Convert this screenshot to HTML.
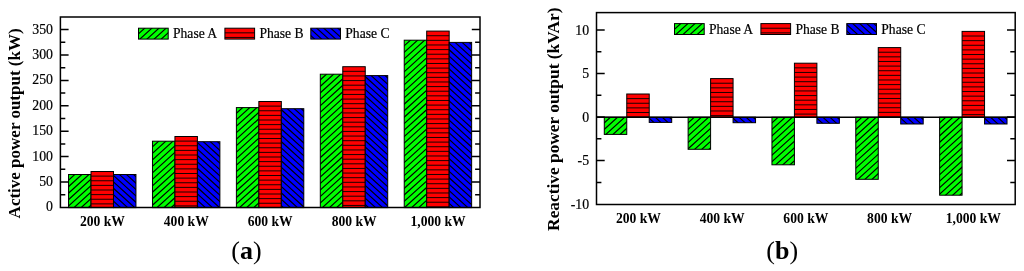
<!DOCTYPE html>
<html><head><meta charset="utf-8"><title>Active and reactive power output</title>
<style>html,body{margin:0;padding:0;background:#fff;} svg{display:block;} text{font-family:'Liberation Serif', 'Times New Roman', serif;fill:#000;stroke:#000;stroke-width:0.2px;} text[font-weight=bold],tspan[font-weight=bold]{stroke:none;}</style>
</head><body>
<svg width="1024" height="271" viewBox="0 0 1024 271">
<defs><clipPath id="c1"><rect x="68.55" y="174.50" width="22.47" height="33.10"/></clipPath><clipPath id="c2"><rect x="91.02" y="171.50" width="22.47" height="36.10"/></clipPath><clipPath id="c3"><rect x="113.48" y="174.50" width="22.47" height="33.10"/></clipPath><clipPath id="c4"><rect x="152.47" y="141.20" width="22.47" height="66.40"/></clipPath><clipPath id="c5"><rect x="174.94" y="136.50" width="22.47" height="71.10"/></clipPath><clipPath id="c6"><rect x="197.41" y="141.70" width="22.47" height="65.90"/></clipPath><clipPath id="c7"><rect x="236.39" y="107.60" width="22.47" height="100.00"/></clipPath><clipPath id="c8"><rect x="258.86" y="101.50" width="22.47" height="106.10"/></clipPath><clipPath id="c9"><rect x="281.33" y="108.70" width="22.47" height="98.90"/></clipPath><clipPath id="c10"><rect x="320.31" y="74.20" width="22.47" height="133.40"/></clipPath><clipPath id="c11"><rect x="342.77" y="66.70" width="22.47" height="140.90"/></clipPath><clipPath id="c12"><rect x="365.25" y="75.60" width="22.47" height="132.00"/></clipPath><clipPath id="c13"><rect x="404.23" y="40.20" width="22.47" height="167.40"/></clipPath><clipPath id="c14"><rect x="426.70" y="31.10" width="22.47" height="176.50"/></clipPath><clipPath id="c15"><rect x="449.17" y="42.40" width="22.47" height="165.20"/></clipPath><clipPath id="c16"><rect x="138.50" y="28.20" width="29.70" height="10.90"/></clipPath><clipPath id="c17"><rect x="224.90" y="28.20" width="29.70" height="10.90"/></clipPath><clipPath id="c18"><rect x="310.80" y="28.20" width="29.70" height="10.90"/></clipPath><clipPath id="c19"><rect x="604.29" y="117.20" width="22.47" height="17.20"/></clipPath><clipPath id="c20"><rect x="626.76" y="94.00" width="22.47" height="23.20"/></clipPath><clipPath id="c21"><rect x="649.23" y="117.20" width="22.47" height="5.20"/></clipPath><clipPath id="c22"><rect x="688.12" y="117.20" width="22.47" height="32.10"/></clipPath><clipPath id="c23"><rect x="710.60" y="78.60" width="22.47" height="38.60"/></clipPath><clipPath id="c24"><rect x="733.07" y="117.20" width="22.47" height="5.50"/></clipPath><clipPath id="c25"><rect x="771.95" y="117.20" width="22.47" height="47.60"/></clipPath><clipPath id="c26"><rect x="794.42" y="63.20" width="22.47" height="54.00"/></clipPath><clipPath id="c27"><rect x="816.89" y="117.20" width="22.47" height="6.10"/></clipPath><clipPath id="c28"><rect x="855.78" y="117.20" width="22.47" height="62.10"/></clipPath><clipPath id="c29"><rect x="878.25" y="47.60" width="22.47" height="69.60"/></clipPath><clipPath id="c30"><rect x="900.72" y="117.20" width="22.47" height="6.80"/></clipPath><clipPath id="c31"><rect x="939.61" y="117.20" width="22.47" height="78.00"/></clipPath><clipPath id="c32"><rect x="962.08" y="31.40" width="22.47" height="85.80"/></clipPath><clipPath id="c33"><rect x="984.55" y="117.20" width="22.47" height="6.80"/></clipPath><clipPath id="c34"><rect x="674.50" y="23.60" width="29.70" height="10.90"/></clipPath><clipPath id="c35"><rect x="760.90" y="23.60" width="29.70" height="10.90"/></clipPath><clipPath id="c36"><rect x="846.80" y="23.60" width="29.70" height="10.90"/></clipPath></defs>
<rect width="1024" height="271" fill="#fff"/>
<rect x="68.55" y="174.50" width="22.47" height="33.10" fill="#00ff00"/>
<path clip-path="url(#c1)" d="M67.55,168.11L92.02,145.84M67.55,174.59L92.02,152.32M67.55,181.07L92.02,158.80M67.55,187.55L92.02,165.28M67.55,194.03L92.02,171.76M67.55,200.51L92.02,178.24M67.55,206.99L92.02,184.72M67.55,213.47L92.02,191.20M67.55,219.95L92.02,197.68M67.55,226.43L92.02,204.16M67.55,232.91L92.02,210.64" stroke="#000" stroke-width="1.15" fill="none"/>
<rect x="68.55" y="174.50" width="22.47" height="33.10" fill="none" stroke="#000" stroke-width="1.0"/>
<rect x="91.02" y="171.50" width="22.47" height="36.10" fill="#ff0000"/>
<path clip-path="url(#c2)" d="M90.02,176.12H114.48M90.02,180.75H114.48M90.02,185.38H114.48M90.02,190.00H114.48M90.02,194.62H114.48M90.02,199.25H114.48M90.02,203.88H114.48" stroke="#000" stroke-width="0.9" fill="none"/>
<rect x="91.02" y="171.50" width="22.47" height="36.10" fill="none" stroke="#000" stroke-width="1.0"/>
<rect x="113.48" y="174.50" width="22.47" height="33.10" fill="#0000ff"/>
<path clip-path="url(#c3)" d="M112.48,148.99L136.95,171.26M112.48,155.39L136.95,177.66M112.48,161.79L136.95,184.06M112.48,168.19L136.95,190.46M112.48,174.59L136.95,196.86M112.48,180.99L136.95,203.26M112.48,187.39L136.95,209.66M112.48,193.79L136.95,216.06M112.48,200.19L136.95,222.46M112.48,206.59L136.95,228.86M112.48,212.99L136.95,235.26" stroke="#000" stroke-width="1.15" fill="none"/>
<rect x="113.48" y="174.50" width="22.47" height="33.10" fill="none" stroke="#000" stroke-width="1.0"/>
<rect x="152.47" y="141.20" width="22.47" height="66.40" fill="#00ff00"/>
<path clip-path="url(#c4)" d="M151.47,134.81L175.94,112.54M151.47,141.29L175.94,119.02M151.47,147.77L175.94,125.50M151.47,154.25L175.94,131.98M151.47,160.73L175.94,138.46M151.47,167.21L175.94,144.94M151.47,173.69L175.94,151.42M151.47,180.17L175.94,157.90M151.47,186.65L175.94,164.38M151.47,193.13L175.94,170.86M151.47,199.61L175.94,177.34M151.47,206.09L175.94,183.82M151.47,212.57L175.94,190.30M151.47,219.05L175.94,196.78M151.47,225.53L175.94,203.26M151.47,232.01L175.94,209.74" stroke="#000" stroke-width="1.15" fill="none"/>
<rect x="152.47" y="141.20" width="22.47" height="66.40" fill="none" stroke="#000" stroke-width="1.0"/>
<rect x="174.94" y="136.50" width="22.47" height="71.10" fill="#ff0000"/>
<path clip-path="url(#c5)" d="M173.94,141.12H198.41M173.94,145.75H198.41M173.94,150.38H198.41M173.94,155.00H198.41M173.94,159.62H198.41M173.94,164.25H198.41M173.94,168.88H198.41M173.94,173.50H198.41M173.94,178.12H198.41M173.94,182.75H198.41M173.94,187.38H198.41M173.94,192.00H198.41M173.94,196.62H198.41M173.94,201.25H198.41M173.94,205.88H198.41" stroke="#000" stroke-width="0.9" fill="none"/>
<rect x="174.94" y="136.50" width="22.47" height="71.10" fill="none" stroke="#000" stroke-width="1.0"/>
<rect x="197.41" y="141.70" width="22.47" height="65.90" fill="#0000ff"/>
<path clip-path="url(#c6)" d="M196.41,116.19L220.88,138.46M196.41,122.59L220.88,144.86M196.41,128.99L220.88,151.26M196.41,135.39L220.88,157.66M196.41,141.79L220.88,164.06M196.41,148.19L220.88,170.46M196.41,154.59L220.88,176.86M196.41,160.99L220.88,183.26M196.41,167.39L220.88,189.66M196.41,173.79L220.88,196.06M196.41,180.19L220.88,202.46M196.41,186.59L220.88,208.86M196.41,192.99L220.88,215.26M196.41,199.39L220.88,221.66M196.41,205.79L220.88,228.06M196.41,212.19L220.88,234.46" stroke="#000" stroke-width="1.15" fill="none"/>
<rect x="197.41" y="141.70" width="22.47" height="65.90" fill="none" stroke="#000" stroke-width="1.0"/>
<rect x="236.39" y="107.60" width="22.47" height="100.00" fill="#00ff00"/>
<path clip-path="url(#c7)" d="M235.39,101.21L259.86,78.94M235.39,107.69L259.86,85.42M235.39,114.17L259.86,91.90M235.39,120.65L259.86,98.38M235.39,127.13L259.86,104.86M235.39,133.61L259.86,111.34M235.39,140.09L259.86,117.82M235.39,146.57L259.86,124.30M235.39,153.05L259.86,130.78M235.39,159.53L259.86,137.26M235.39,166.01L259.86,143.74M235.39,172.49L259.86,150.22M235.39,178.97L259.86,156.70M235.39,185.45L259.86,163.18M235.39,191.93L259.86,169.66M235.39,198.41L259.86,176.14M235.39,204.89L259.86,182.62M235.39,211.37L259.86,189.10M235.39,217.85L259.86,195.58M235.39,224.33L259.86,202.06M235.39,230.81L259.86,208.54M235.39,237.29L259.86,215.02" stroke="#000" stroke-width="1.15" fill="none"/>
<rect x="236.39" y="107.60" width="22.47" height="100.00" fill="none" stroke="#000" stroke-width="1.0"/>
<rect x="258.86" y="101.50" width="22.47" height="106.10" fill="#ff0000"/>
<path clip-path="url(#c8)" d="M257.86,106.12H282.33M257.86,110.75H282.33M257.86,115.38H282.33M257.86,120.00H282.33M257.86,124.62H282.33M257.86,129.25H282.33M257.86,133.88H282.33M257.86,138.50H282.33M257.86,143.12H282.33M257.86,147.75H282.33M257.86,152.38H282.33M257.86,157.00H282.33M257.86,161.62H282.33M257.86,166.25H282.33M257.86,170.88H282.33M257.86,175.50H282.33M257.86,180.12H282.33M257.86,184.75H282.33M257.86,189.38H282.33M257.86,194.00H282.33M257.86,198.62H282.33M257.86,203.25H282.33" stroke="#000" stroke-width="0.9" fill="none"/>
<rect x="258.86" y="101.50" width="22.47" height="106.10" fill="none" stroke="#000" stroke-width="1.0"/>
<rect x="281.33" y="108.70" width="22.47" height="98.90" fill="#0000ff"/>
<path clip-path="url(#c9)" d="M280.33,83.19L304.80,105.46M280.33,89.59L304.80,111.86M280.33,95.99L304.80,118.26M280.33,102.39L304.80,124.66M280.33,108.79L304.80,131.06M280.33,115.19L304.80,137.46M280.33,121.59L304.80,143.86M280.33,127.99L304.80,150.26M280.33,134.39L304.80,156.66M280.33,140.79L304.80,163.06M280.33,147.19L304.80,169.46M280.33,153.59L304.80,175.86M280.33,159.99L304.80,182.26M280.33,166.39L304.80,188.66M280.33,172.79L304.80,195.06M280.33,179.19L304.80,201.46M280.33,185.59L304.80,207.86M280.33,191.99L304.80,214.26M280.33,198.39L304.80,220.66M280.33,204.79L304.80,227.06M280.33,211.19L304.80,233.46" stroke="#000" stroke-width="1.15" fill="none"/>
<rect x="281.33" y="108.70" width="22.47" height="98.90" fill="none" stroke="#000" stroke-width="1.0"/>
<rect x="320.31" y="74.20" width="22.47" height="133.40" fill="#00ff00"/>
<path clip-path="url(#c10)" d="M319.31,67.81L343.77,45.54M319.31,74.29L343.77,52.02M319.31,80.77L343.77,58.50M319.31,87.25L343.77,64.98M319.31,93.73L343.77,71.46M319.31,100.21L343.77,77.94M319.31,106.69L343.77,84.42M319.31,113.17L343.77,90.90M319.31,119.65L343.77,97.38M319.31,126.13L343.77,103.86M319.31,132.61L343.77,110.34M319.31,139.09L343.77,116.82M319.31,145.57L343.77,123.30M319.31,152.05L343.77,129.78M319.31,158.53L343.77,136.26M319.31,165.01L343.77,142.74M319.31,171.49L343.77,149.22M319.31,177.97L343.77,155.70M319.31,184.45L343.77,162.18M319.31,190.93L343.77,168.66M319.31,197.41L343.77,175.14M319.31,203.89L343.77,181.62M319.31,210.37L343.77,188.10M319.31,216.85L343.77,194.58M319.31,223.33L343.77,201.06M319.31,229.81L343.77,207.54M319.31,236.29L343.77,214.02" stroke="#000" stroke-width="1.15" fill="none"/>
<rect x="320.31" y="74.20" width="22.47" height="133.40" fill="none" stroke="#000" stroke-width="1.0"/>
<rect x="342.77" y="66.70" width="22.47" height="140.90" fill="#ff0000"/>
<path clip-path="url(#c11)" d="M341.77,71.33H366.25M341.77,75.95H366.25M341.77,80.58H366.25M341.77,85.20H366.25M341.77,89.83H366.25M341.77,94.45H366.25M341.77,99.08H366.25M341.77,103.70H366.25M341.77,108.33H366.25M341.77,112.95H366.25M341.77,117.58H366.25M341.77,122.20H366.25M341.77,126.83H366.25M341.77,131.45H366.25M341.77,136.07H366.25M341.77,140.70H366.25M341.77,145.32H366.25M341.77,149.95H366.25M341.77,154.57H366.25M341.77,159.20H366.25M341.77,163.82H366.25M341.77,168.45H366.25M341.77,173.07H366.25M341.77,177.70H366.25M341.77,182.32H366.25M341.77,186.95H366.25M341.77,191.57H366.25M341.77,196.20H366.25M341.77,200.82H366.25M341.77,205.45H366.25" stroke="#000" stroke-width="0.9" fill="none"/>
<rect x="342.77" y="66.70" width="22.47" height="140.90" fill="none" stroke="#000" stroke-width="1.0"/>
<rect x="365.25" y="75.60" width="22.47" height="132.00" fill="#0000ff"/>
<path clip-path="url(#c12)" d="M364.25,50.09L388.72,72.36M364.25,56.49L388.72,78.76M364.25,62.89L388.72,85.16M364.25,69.29L388.72,91.56M364.25,75.69L388.72,97.96M364.25,82.09L388.72,104.36M364.25,88.49L388.72,110.76M364.25,94.89L388.72,117.16M364.25,101.29L388.72,123.56M364.25,107.69L388.72,129.96M364.25,114.09L388.72,136.36M364.25,120.49L388.72,142.76M364.25,126.89L388.72,149.16M364.25,133.29L388.72,155.56M364.25,139.69L388.72,161.96M364.25,146.09L388.72,168.36M364.25,152.49L388.72,174.76M364.25,158.89L388.72,181.16M364.25,165.29L388.72,187.56M364.25,171.69L388.72,193.96M364.25,178.09L388.72,200.36M364.25,184.49L388.72,206.76M364.25,190.89L388.72,213.16M364.25,197.29L388.72,219.56M364.25,203.69L388.72,225.96M364.25,210.09L388.72,232.36" stroke="#000" stroke-width="1.15" fill="none"/>
<rect x="365.25" y="75.60" width="22.47" height="132.00" fill="none" stroke="#000" stroke-width="1.0"/>
<rect x="404.23" y="40.20" width="22.47" height="167.40" fill="#00ff00"/>
<path clip-path="url(#c13)" d="M403.23,33.81L427.70,11.54M403.23,40.29L427.70,18.02M403.23,46.77L427.70,24.50M403.23,53.25L427.70,30.98M403.23,59.73L427.70,37.46M403.23,66.21L427.70,43.94M403.23,72.69L427.70,50.42M403.23,79.17L427.70,56.90M403.23,85.65L427.70,63.38M403.23,92.13L427.70,69.86M403.23,98.61L427.70,76.34M403.23,105.09L427.70,82.82M403.23,111.57L427.70,89.30M403.23,118.05L427.70,95.78M403.23,124.53L427.70,102.26M403.23,131.01L427.70,108.74M403.23,137.49L427.70,115.22M403.23,143.97L427.70,121.70M403.23,150.45L427.70,128.18M403.23,156.93L427.70,134.66M403.23,163.41L427.70,141.14M403.23,169.89L427.70,147.62M403.23,176.37L427.70,154.10M403.23,182.85L427.70,160.58M403.23,189.33L427.70,167.06M403.23,195.81L427.70,173.54M403.23,202.29L427.70,180.02M403.23,208.77L427.70,186.50M403.23,215.25L427.70,192.98M403.23,221.73L427.70,199.46M403.23,228.21L427.70,205.94M403.23,234.69L427.70,212.42" stroke="#000" stroke-width="1.15" fill="none"/>
<rect x="404.23" y="40.20" width="22.47" height="167.40" fill="none" stroke="#000" stroke-width="1.0"/>
<rect x="426.70" y="31.10" width="22.47" height="176.50" fill="#ff0000"/>
<path clip-path="url(#c14)" d="M425.70,35.73H450.17M425.70,40.35H450.17M425.70,44.98H450.17M425.70,49.60H450.17M425.70,54.23H450.17M425.70,58.85H450.17M425.70,63.48H450.17M425.70,68.10H450.17M425.70,72.72H450.17M425.70,77.35H450.17M425.70,81.97H450.17M425.70,86.60H450.17M425.70,91.22H450.17M425.70,95.85H450.17M425.70,100.47H450.17M425.70,105.10H450.17M425.70,109.72H450.17M425.70,114.35H450.17M425.70,118.97H450.17M425.70,123.60H450.17M425.70,128.22H450.17M425.70,132.85H450.17M425.70,137.47H450.17M425.70,142.10H450.17M425.70,146.72H450.17M425.70,151.35H450.17M425.70,155.97H450.17M425.70,160.60H450.17M425.70,165.22H450.17M425.70,169.85H450.17M425.70,174.47H450.17M425.70,179.10H450.17M425.70,183.72H450.17M425.70,188.35H450.17M425.70,192.97H450.17M425.70,197.60H450.17M425.70,202.22H450.17M425.70,206.85H450.17" stroke="#000" stroke-width="0.9" fill="none"/>
<rect x="426.70" y="31.10" width="22.47" height="176.50" fill="none" stroke="#000" stroke-width="1.0"/>
<rect x="449.17" y="42.40" width="22.47" height="165.20" fill="#0000ff"/>
<path clip-path="url(#c15)" d="M448.17,16.89L472.63,39.16M448.17,23.29L472.63,45.56M448.17,29.69L472.63,51.96M448.17,36.09L472.63,58.36M448.17,42.49L472.63,64.76M448.17,48.89L472.63,71.16M448.17,55.29L472.63,77.56M448.17,61.69L472.63,83.96M448.17,68.09L472.63,90.36M448.17,74.49L472.63,96.76M448.17,80.89L472.63,103.16M448.17,87.29L472.63,109.56M448.17,93.69L472.63,115.96M448.17,100.09L472.63,122.36M448.17,106.49L472.63,128.76M448.17,112.89L472.63,135.16M448.17,119.29L472.63,141.56M448.17,125.69L472.63,147.96M448.17,132.09L472.63,154.36M448.17,138.49L472.63,160.76M448.17,144.89L472.63,167.16M448.17,151.29L472.63,173.56M448.17,157.69L472.63,179.96M448.17,164.09L472.63,186.36M448.17,170.49L472.63,192.76M448.17,176.89L472.63,199.16M448.17,183.29L472.63,205.56M448.17,189.69L472.63,211.96M448.17,196.09L472.63,218.36M448.17,202.49L472.63,224.76M448.17,208.89L472.63,231.16" stroke="#000" stroke-width="1.15" fill="none"/>
<rect x="449.17" y="42.40" width="22.47" height="165.20" fill="none" stroke="#000" stroke-width="1.0"/>
<path d="M60.4,194.70h4.9M480.0,194.70h-4.9M60.4,182.00h8.2M480.0,182.00h-8.2M60.4,169.30h4.9M480.0,169.30h-4.9M60.4,156.60h8.2M480.0,156.60h-8.2M60.4,143.90h4.9M480.0,143.90h-4.9M60.4,131.20h8.2M480.0,131.20h-8.2M60.4,118.50h4.9M480.0,118.50h-4.9M60.4,105.80h8.2M480.0,105.80h-8.2M60.4,93.10h4.9M480.0,93.10h-4.9M60.4,80.40h8.2M480.0,80.40h-8.2M60.4,67.70h4.9M480.0,67.70h-4.9M60.4,55.00h8.2M480.0,55.00h-8.2M60.4,42.30h4.9M480.0,42.30h-4.9M60.4,29.60h8.2M480.0,29.60h-8.2" stroke="#000" stroke-width="1.5" fill="none"/>
<rect x="60.4" y="17.0" width="419.60" height="190.50" fill="none" stroke="#000" stroke-width="1.5"/>
<text x="53.00" y="211.30" font-size="13.8" font-weight="normal" text-anchor="end" >0</text>
<text x="53.00" y="185.90" font-size="13.8" font-weight="normal" text-anchor="end" >50</text>
<text x="53.00" y="160.50" font-size="13.8" font-weight="normal" text-anchor="end" >100</text>
<text x="53.00" y="135.10" font-size="13.8" font-weight="normal" text-anchor="end" >150</text>
<text x="53.00" y="109.70" font-size="13.8" font-weight="normal" text-anchor="end" >200</text>
<text x="53.00" y="84.30" font-size="13.8" font-weight="normal" text-anchor="end" >250</text>
<text x="53.00" y="58.90" font-size="13.8" font-weight="normal" text-anchor="end" >300</text>
<text x="53.00" y="33.50" font-size="13.8" font-weight="normal" text-anchor="end" >350</text>
<text x="102.36" y="226.00" font-size="13.6" font-weight="bold" text-anchor="middle" >200 kW</text>
<text x="186.28" y="226.00" font-size="13.6" font-weight="bold" text-anchor="middle" >400 kW</text>
<text x="270.20" y="226.00" font-size="13.6" font-weight="bold" text-anchor="middle" >600 kW</text>
<text x="354.12" y="226.00" font-size="13.6" font-weight="bold" text-anchor="middle" >800 kW</text>
<text x="438.04" y="226.00" font-size="13.6" font-weight="bold" text-anchor="middle" >1,000 kW</text>
<rect x="138.50" y="28.20" width="29.70" height="10.90" fill="#00ff00"/>
<path clip-path="url(#c16)" d="M137.50,21.81L169.20,-7.04M137.50,28.29L169.20,-0.56M137.50,34.77L169.20,5.92M137.50,41.25L169.20,12.40M137.50,47.73L169.20,18.88M137.50,54.21L169.20,25.36M137.50,60.69L169.20,31.84M137.50,67.17L169.20,38.32M137.50,73.65L169.20,44.80" stroke="#000" stroke-width="1.15" fill="none"/>
<rect x="138.50" y="28.20" width="29.70" height="10.90" fill="none" stroke="#000" stroke-width="1.0"/>
<text x="173.00" y="38.35" font-size="13.6" font-weight="normal" text-anchor="start" >Phase A</text>
<rect x="224.90" y="28.20" width="29.70" height="10.90" fill="#ff0000"/>
<path clip-path="url(#c17)" d="M223.90,32.83H255.60M223.90,37.45H255.60" stroke="#000" stroke-width="0.9" fill="none"/>
<rect x="224.90" y="28.20" width="29.70" height="10.90" fill="none" stroke="#000" stroke-width="1.0"/>
<text x="259.40" y="38.35" font-size="13.6" font-weight="normal" text-anchor="start" >Phase B</text>
<rect x="310.80" y="28.20" width="29.70" height="10.90" fill="#0000ff"/>
<path clip-path="url(#c18)" d="M309.80,-3.71L341.50,25.14M309.80,2.69L341.50,31.54M309.80,9.09L341.50,37.94M309.80,15.49L341.50,44.34M309.80,21.89L341.50,50.74M309.80,28.29L341.50,57.14M309.80,34.69L341.50,63.54M309.80,41.09L341.50,69.94" stroke="#000" stroke-width="1.15" fill="none"/>
<rect x="310.80" y="28.20" width="29.70" height="10.90" fill="none" stroke="#000" stroke-width="1.0"/>
<text x="345.30" y="38.35" font-size="13.6" font-weight="normal" text-anchor="start" >Phase C</text>
<text x="20.2" y="123.4" font-size="17" font-weight="bold" text-anchor="middle" transform="rotate(-90 20.2 123.4)">Active power output (kW)</text>
<rect x="604.29" y="117.20" width="22.47" height="17.20" fill="#00ff00"/>
<path clip-path="url(#c19)" d="M603.29,110.81L627.76,88.54M603.29,117.29L627.76,95.02M603.29,123.77L627.76,101.50M603.29,130.25L627.76,107.98M603.29,136.73L627.76,114.46M603.29,143.21L627.76,120.94M603.29,149.69L627.76,127.42M603.29,156.17L627.76,133.90M603.29,162.65L627.76,140.38" stroke="#000" stroke-width="1.15" fill="none"/>
<rect x="604.29" y="117.20" width="22.47" height="17.20" fill="none" stroke="#000" stroke-width="1.0"/>
<rect x="626.76" y="94.00" width="22.47" height="23.20" fill="#ff0000"/>
<path clip-path="url(#c20)" d="M625.76,98.62H650.24M625.76,103.25H650.24M625.76,107.88H650.24M625.76,112.50H650.24M625.76,117.12H650.24" stroke="#000" stroke-width="0.9" fill="none"/>
<rect x="626.76" y="94.00" width="22.47" height="23.20" fill="none" stroke="#000" stroke-width="1.0"/>
<rect x="649.23" y="117.20" width="22.47" height="5.20" fill="#0000ff"/>
<path clip-path="url(#c21)" d="M648.23,91.69L672.70,113.96M648.23,98.09L672.70,120.36M648.23,104.49L672.70,126.76M648.23,110.89L672.70,133.16M648.23,117.29L672.70,139.56M648.23,123.69L672.70,145.96" stroke="#000" stroke-width="1.15" fill="none"/>
<rect x="649.23" y="117.20" width="22.47" height="5.20" fill="none" stroke="#000" stroke-width="1.0"/>
<rect x="688.12" y="117.20" width="22.47" height="32.10" fill="#00ff00"/>
<path clip-path="url(#c22)" d="M687.12,110.81L711.60,88.54M687.12,117.29L711.60,95.02M687.12,123.77L711.60,101.50M687.12,130.25L711.60,107.98M687.12,136.73L711.60,114.46M687.12,143.21L711.60,120.94M687.12,149.69L711.60,127.42M687.12,156.17L711.60,133.90M687.12,162.65L711.60,140.38M687.12,169.13L711.60,146.86M687.12,175.61L711.60,153.34" stroke="#000" stroke-width="1.15" fill="none"/>
<rect x="688.12" y="117.20" width="22.47" height="32.10" fill="none" stroke="#000" stroke-width="1.0"/>
<rect x="710.60" y="78.60" width="22.47" height="38.60" fill="#ff0000"/>
<path clip-path="url(#c23)" d="M709.60,83.22H734.07M709.60,87.85H734.07M709.60,92.47H734.07M709.60,97.10H734.07M709.60,101.72H734.07M709.60,106.35H734.07M709.60,110.97H734.07M709.60,115.60H734.07" stroke="#000" stroke-width="0.9" fill="none"/>
<rect x="710.60" y="78.60" width="22.47" height="38.60" fill="none" stroke="#000" stroke-width="1.0"/>
<rect x="733.07" y="117.20" width="22.47" height="5.50" fill="#0000ff"/>
<path clip-path="url(#c24)" d="M732.07,91.69L756.54,113.96M732.07,98.09L756.54,120.36M732.07,104.49L756.54,126.76M732.07,110.89L756.54,133.16M732.07,117.29L756.54,139.56M732.07,123.69L756.54,145.96M732.07,130.09L756.54,152.36" stroke="#000" stroke-width="1.15" fill="none"/>
<rect x="733.07" y="117.20" width="22.47" height="5.50" fill="none" stroke="#000" stroke-width="1.0"/>
<rect x="771.95" y="117.20" width="22.47" height="47.60" fill="#00ff00"/>
<path clip-path="url(#c25)" d="M770.95,110.81L795.42,88.54M770.95,117.29L795.42,95.02M770.95,123.77L795.42,101.50M770.95,130.25L795.42,107.98M770.95,136.73L795.42,114.46M770.95,143.21L795.42,120.94M770.95,149.69L795.42,127.42M770.95,156.17L795.42,133.90M770.95,162.65L795.42,140.38M770.95,169.13L795.42,146.86M770.95,175.61L795.42,153.34M770.95,182.09L795.42,159.82M770.95,188.57L795.42,166.30" stroke="#000" stroke-width="1.15" fill="none"/>
<rect x="771.95" y="117.20" width="22.47" height="47.60" fill="none" stroke="#000" stroke-width="1.0"/>
<rect x="794.42" y="63.20" width="22.47" height="54.00" fill="#ff0000"/>
<path clip-path="url(#c26)" d="M793.42,67.83H817.89M793.42,72.45H817.89M793.42,77.08H817.89M793.42,81.70H817.89M793.42,86.33H817.89M793.42,90.95H817.89M793.42,95.58H817.89M793.42,100.20H817.89M793.42,104.83H817.89M793.42,109.45H817.89M793.42,114.08H817.89" stroke="#000" stroke-width="0.9" fill="none"/>
<rect x="794.42" y="63.20" width="22.47" height="54.00" fill="none" stroke="#000" stroke-width="1.0"/>
<rect x="816.89" y="117.20" width="22.47" height="6.10" fill="#0000ff"/>
<path clip-path="url(#c27)" d="M815.89,91.69L840.37,113.96M815.89,98.09L840.37,120.36M815.89,104.49L840.37,126.76M815.89,110.89L840.37,133.16M815.89,117.29L840.37,139.56M815.89,123.69L840.37,145.96M815.89,130.09L840.37,152.36" stroke="#000" stroke-width="1.15" fill="none"/>
<rect x="816.89" y="117.20" width="22.47" height="6.10" fill="none" stroke="#000" stroke-width="1.0"/>
<rect x="855.78" y="117.20" width="22.47" height="62.10" fill="#00ff00"/>
<path clip-path="url(#c28)" d="M854.78,110.81L879.25,88.54M854.78,117.29L879.25,95.02M854.78,123.77L879.25,101.50M854.78,130.25L879.25,107.98M854.78,136.73L879.25,114.46M854.78,143.21L879.25,120.94M854.78,149.69L879.25,127.42M854.78,156.17L879.25,133.90M854.78,162.65L879.25,140.38M854.78,169.13L879.25,146.86M854.78,175.61L879.25,153.34M854.78,182.09L879.25,159.82M854.78,188.57L879.25,166.30M854.78,195.05L879.25,172.78M854.78,201.53L879.25,179.26M854.78,208.01L879.25,185.74" stroke="#000" stroke-width="1.15" fill="none"/>
<rect x="855.78" y="117.20" width="22.47" height="62.10" fill="none" stroke="#000" stroke-width="1.0"/>
<rect x="878.25" y="47.60" width="22.47" height="69.60" fill="#ff0000"/>
<path clip-path="url(#c29)" d="M877.25,52.23H901.73M877.25,56.85H901.73M877.25,61.48H901.73M877.25,66.10H901.73M877.25,70.72H901.73M877.25,75.35H901.73M877.25,79.97H901.73M877.25,84.60H901.73M877.25,89.22H901.73M877.25,93.85H901.73M877.25,98.47H901.73M877.25,103.10H901.73M877.25,107.72H901.73M877.25,112.35H901.73M877.25,116.97H901.73" stroke="#000" stroke-width="0.9" fill="none"/>
<rect x="878.25" y="47.60" width="22.47" height="69.60" fill="none" stroke="#000" stroke-width="1.0"/>
<rect x="900.72" y="117.20" width="22.47" height="6.80" fill="#0000ff"/>
<path clip-path="url(#c30)" d="M899.72,91.69L924.19,113.96M899.72,98.09L924.19,120.36M899.72,104.49L924.19,126.76M899.72,110.89L924.19,133.16M899.72,117.29L924.19,139.56M899.72,123.69L924.19,145.96M899.72,130.09L924.19,152.36" stroke="#000" stroke-width="1.15" fill="none"/>
<rect x="900.72" y="117.20" width="22.47" height="6.80" fill="none" stroke="#000" stroke-width="1.0"/>
<rect x="939.61" y="117.20" width="22.47" height="78.00" fill="#00ff00"/>
<path clip-path="url(#c31)" d="M938.61,110.81L963.08,88.54M938.61,117.29L963.08,95.02M938.61,123.77L963.08,101.50M938.61,130.25L963.08,107.98M938.61,136.73L963.08,114.46M938.61,143.21L963.08,120.94M938.61,149.69L963.08,127.42M938.61,156.17L963.08,133.90M938.61,162.65L963.08,140.38M938.61,169.13L963.08,146.86M938.61,175.61L963.08,153.34M938.61,182.09L963.08,159.82M938.61,188.57L963.08,166.30M938.61,195.05L963.08,172.78M938.61,201.53L963.08,179.26M938.61,208.01L963.08,185.74M938.61,214.49L963.08,192.22M938.61,220.97L963.08,198.70" stroke="#000" stroke-width="1.15" fill="none"/>
<rect x="939.61" y="117.20" width="22.47" height="78.00" fill="none" stroke="#000" stroke-width="1.0"/>
<rect x="962.08" y="31.40" width="22.47" height="85.80" fill="#ff0000"/>
<path clip-path="url(#c32)" d="M961.08,36.02H985.55M961.08,40.65H985.55M961.08,45.27H985.55M961.08,49.90H985.55M961.08,54.52H985.55M961.08,59.15H985.55M961.08,63.77H985.55M961.08,68.40H985.55M961.08,73.03H985.55M961.08,77.65H985.55M961.08,82.28H985.55M961.08,86.90H985.55M961.08,91.53H985.55M961.08,96.15H985.55M961.08,100.78H985.55M961.08,105.40H985.55M961.08,110.03H985.55M961.08,114.65H985.55" stroke="#000" stroke-width="0.9" fill="none"/>
<rect x="962.08" y="31.40" width="22.47" height="85.80" fill="none" stroke="#000" stroke-width="1.0"/>
<rect x="984.55" y="117.20" width="22.47" height="6.80" fill="#0000ff"/>
<path clip-path="url(#c33)" d="M983.55,91.69L1008.02,113.96M983.55,98.09L1008.02,120.36M983.55,104.49L1008.02,126.76M983.55,110.89L1008.02,133.16M983.55,117.29L1008.02,139.56M983.55,123.69L1008.02,145.96M983.55,130.09L1008.02,152.36" stroke="#000" stroke-width="1.15" fill="none"/>
<rect x="984.55" y="117.20" width="22.47" height="6.80" fill="none" stroke="#000" stroke-width="1.0"/>
<line x1="596.5" y1="117.20" x2="1015.2" y2="117.20" stroke="#000" stroke-width="1.5"/>
<path d="M596.5,182.41h4.9M1015.2,182.41h-4.9M596.5,160.62h8.2M1015.2,160.62h-8.2M596.5,138.84h4.9M1015.2,138.84h-4.9M596.5,117.05h8.2M1015.2,117.05h-8.2M596.5,95.26h4.9M1015.2,95.26h-4.9M596.5,73.47h8.2M1015.2,73.47h-8.2M596.5,51.69h4.9M1015.2,51.69h-4.9M596.5,29.90h8.2M1015.2,29.90h-8.2" stroke="#000" stroke-width="1.5" fill="none"/>
<rect x="596.5" y="12.6" width="418.70" height="191.90" fill="none" stroke="#000" stroke-width="1.5"/>
<text x="589.10" y="209.00" font-size="13.8" font-weight="normal" text-anchor="end" >-10</text>
<text x="589.10" y="165.43" font-size="13.8" font-weight="normal" text-anchor="end" >-5</text>
<text x="589.10" y="121.85" font-size="13.8" font-weight="normal" text-anchor="end" >0</text>
<text x="589.10" y="78.27" font-size="13.8" font-weight="normal" text-anchor="end" >5</text>
<text x="589.10" y="34.70" font-size="13.8" font-weight="normal" text-anchor="end" >10</text>
<text x="638.37" y="222.60" font-size="13.6" font-weight="bold" text-anchor="middle" >200 kW</text>
<text x="722.11" y="222.60" font-size="13.6" font-weight="bold" text-anchor="middle" >400 kW</text>
<text x="805.85" y="222.60" font-size="13.6" font-weight="bold" text-anchor="middle" >600 kW</text>
<text x="889.59" y="222.60" font-size="13.6" font-weight="bold" text-anchor="middle" >800 kW</text>
<text x="973.33" y="222.60" font-size="13.6" font-weight="bold" text-anchor="middle" >1,000 kW</text>
<rect x="674.50" y="23.60" width="29.70" height="10.90" fill="#00ff00"/>
<path clip-path="url(#c34)" d="M673.50,17.21L705.20,-11.64M673.50,23.69L705.20,-5.16M673.50,30.17L705.20,1.32M673.50,36.65L705.20,7.80M673.50,43.13L705.20,14.28M673.50,49.61L705.20,20.76M673.50,56.09L705.20,27.24M673.50,62.57L705.20,33.72M673.50,69.05L705.20,40.20" stroke="#000" stroke-width="1.15" fill="none"/>
<rect x="674.50" y="23.60" width="29.70" height="10.90" fill="none" stroke="#000" stroke-width="1.0"/>
<text x="709.00" y="33.75" font-size="13.6" font-weight="normal" text-anchor="start" >Phase A</text>
<rect x="760.90" y="23.60" width="29.70" height="10.90" fill="#ff0000"/>
<path clip-path="url(#c35)" d="M759.90,28.23H791.60M759.90,32.85H791.60" stroke="#000" stroke-width="0.9" fill="none"/>
<rect x="760.90" y="23.60" width="29.70" height="10.90" fill="none" stroke="#000" stroke-width="1.0"/>
<text x="795.40" y="33.75" font-size="13.6" font-weight="normal" text-anchor="start" >Phase B</text>
<rect x="846.80" y="23.60" width="29.70" height="10.90" fill="#0000ff"/>
<path clip-path="url(#c36)" d="M845.80,-8.31L877.50,20.54M845.80,-1.91L877.50,26.94M845.80,4.49L877.50,33.34M845.80,10.89L877.50,39.74M845.80,17.29L877.50,46.14M845.80,23.69L877.50,52.54M845.80,30.09L877.50,58.94M845.80,36.49L877.50,65.34" stroke="#000" stroke-width="1.15" fill="none"/>
<rect x="846.80" y="23.60" width="29.70" height="10.90" fill="none" stroke="#000" stroke-width="1.0"/>
<text x="881.30" y="33.75" font-size="13.6" font-weight="normal" text-anchor="start" >Phase C</text>
<text x="559.1" y="119.2" font-size="17.35" font-weight="bold" text-anchor="middle" transform="rotate(-90 559.1 119.2)">Reactive power output (kVAr)</text>
<text x="246.4" y="258.5" font-size="26" text-anchor="middle" style="stroke:none">(<tspan font-weight="bold">a</tspan>)</text>
<text x="782.2" y="258.5" font-size="26" text-anchor="middle" style="stroke:none">(<tspan font-weight="bold">b</tspan>)</text>
</svg>
</body></html>
